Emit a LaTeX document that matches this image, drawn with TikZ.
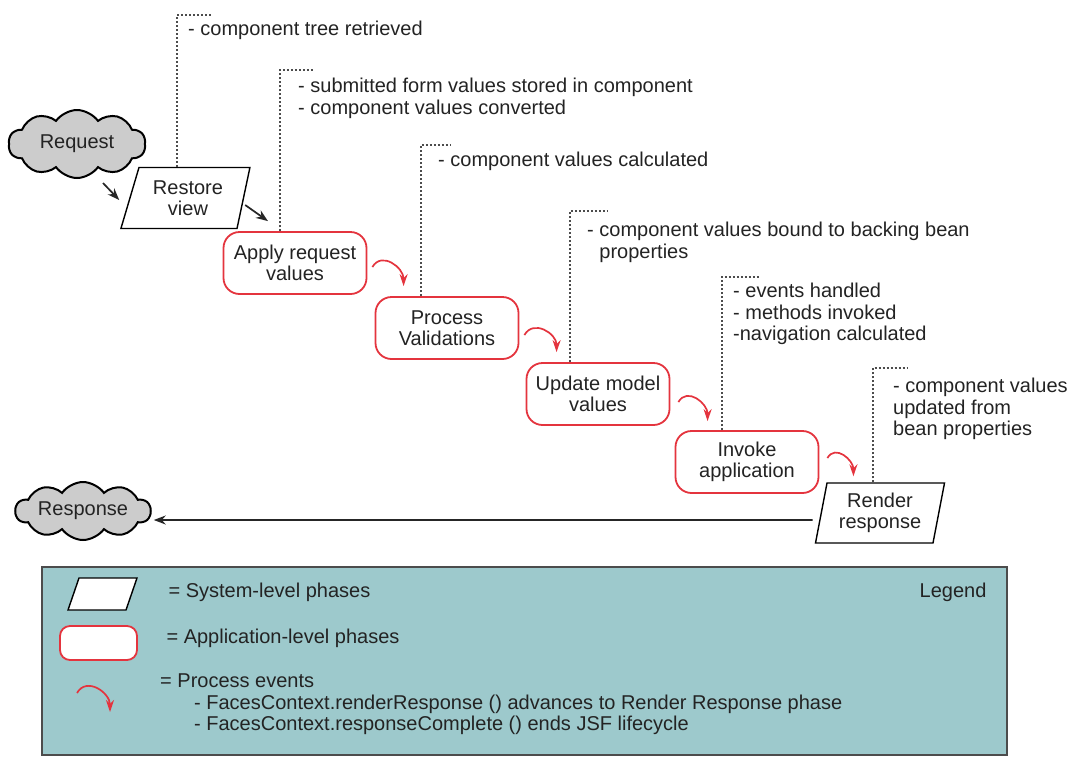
\documentclass[tikz,border=0pt]{standalone}
\usepackage{fontspec}
\setmainfont{Liberation Sans}
\usetikzlibrary{shapes.geometric,shapes.symbols,arrows.meta}
\definecolor{phasered}{RGB}{228,52,62}
\definecolor{legendteal}{RGB}{157,201,204}
\definecolor{inkgray}{RGB}{35,35,35}

\tikzstyle{sysbox} = [draw=black, fill=white, line width=1.4pt, trapezium,
    trapezium stretches body, align=center, inner sep=0pt]
\tikzstyle{appbox} = [draw=phasered, fill=white, line width=1.8pt,
    rectangle, rounded corners=16pt, align=center,
    minimum width=143pt, minimum height=62pt]
\tikzstyle{cloudbox} = [draw=black, fill=gray!40, line width=2pt, cloud,
    cloud puffs=10, cloud puff arc=110, cloud ignores aspect, inner sep=0pt]
\tikzstyle{note} = [anchor=north west, align=left, inner sep=0pt]
\tikzstyle{leader} = [draw=gray!60!black, line width=2pt, dash pattern=on 2pt off 2pt]
\tikzstyle{flowarrow} = [draw=black!85, line width=1.7pt, -{Stealth[length=12pt,width=9pt]}]
\tikzstyle{eventarrow} = [draw=phasered, line width=1.7pt, looseness=1.3,
    -{Stealth[length=12pt,width=8pt]}]

\begin{document}
\begin{tikzpicture}[x=1pt, y=-1pt, font=\fontsize{20}{21.5}\selectfont, text=inkgray]
\useasboundingbox (0,0) rectangle (1083,769);

\node[cloudbox, minimum width=137pt, minimum height=68pt] (request) at (77,144) {Request};
\node[cloudbox, minimum width=135pt, minimum height=58pt] (response) at (83,511) {Response};

\node[sysbox, trapezium left angle=63, trapezium right angle=110,
    minimum width=129pt, minimum height=61pt] (restore) at (188,198) {Restore\\view};
\node[appbox] (apply) at (295,263) {Apply request\\values};
\node[appbox] (process) at (447,328) {Process\\Validations};
\node[appbox] (update) at (598,394) {Update model\\values};
\node[appbox] (invoke) at (747,462) {Invoke\\application};
\node[sysbox, trapezium left angle=74, trapezium right angle=106,
    minimum width=129pt, minimum height=60pt] (render) at (880,513) {Render\\response};

\draw[flowarrow] ([shift={(26,4)}]request.south) -- ([shift={(-10,2)}]restore.west);
\draw[flowarrow] ([shift={(1,7)}]restore.east) -- ([shift={(-27,-10)}]apply.north);
\draw[flowarrow] ([shift={(-8,7)}]render.west) -- ([shift={(2,9)}]response.east);

\draw[eventarrow] ([shift={(5,4)}]apply.east) to[out=60,in=90] ([shift={(29,-10)}]process.north west);
\draw[eventarrow] ([shift={(5,7)}]process.east) to[out=60,in=90] ([shift={(31,-10)}]update.north west);
\draw[eventarrow] ([shift={(8,8)}]update.east) to[out=60,in=90] ([shift={(33,-9)}]invoke.north west);
\draw[eventarrow] ([shift={(8,-4)}]invoke.east) to[out=60,in=90] ([shift={(27,-6)}]render.top left corner);

\coordinate (k1) at (177,15);
\coordinate (k2) at (280,70);
\coordinate (k3) at (421,145);
\coordinate (k4) at (570,211);
\coordinate (k5) at (722,277);
\coordinate (k6) at (873,368);
\draw[leader] (k1 |- restore.north) -- (k1) -- ++(36,0);
\draw[leader] (k2 |- apply.north) -- (k2) -- ++(33,0);
\draw[leader] (k3 |- process.north) -- (k3) -- ++(29,0);
\draw[leader] (k4 |- update.north) -- (k4) -- ++(38,0);
\draw[leader] (k5 |- invoke.north) -- (k5) -- ++(38,0);
\draw[leader] (k6 |- render.north) -- (k6) -- ++(35,0);

\node[note] (n1) at (188,21) {- component tree retrieved};
\node[note] (n2) at (298,78) {- submitted form values stored in component\\- component values converted};
\node[note] (n3) at (438,152) {- component values calculated};
\node[note] (n4) at (587,222) {- component values bound to backing bean\\\phantom{- }properties};
\node[note] (n5) at (733,283) {- events handled\\- methods invoked\\-navigation calculated};
\node[note] (n6) at (893,378) {- component values\\updated from\\bean properties};

\node[draw=black!70, line width=1.5pt, fill=legendteal, inner sep=0pt,
    minimum width=965pt, minimum height=188pt] (legend) at (524.5,661) {};
\draw[draw=black, fill=white, line width=1.4pt] (68,610) -- (79,578) -- (137,578) -- (126,610) -- cycle;
\node[appbox, rounded corners=10pt, minimum width=77pt, minimum height=34pt] (legapp) at (98.5,643) {};
\coordinate (legev1) at (77,693);
\coordinate (legev2) at (110,712);
\draw[eventarrow] (legev1) to[out=60,in=90] (legev2);

\node[anchor=west] (legsystxt) at (165,592) {= System-level phases};
\node[anchor=west] (legapptxt) at (163,638) {= Application-level phases};
\node[note] (legevtxt) at (160,674) {= Process events\\
    \hspace*{34pt}- FacesContext.renderResponse () advances to Render Response phase\\
    \hspace*{34pt}- FacesContext.responseComplete () ends JSF lifecycle};
\node[anchor=east] (legtitle) at (990,592) {Legend};
\end{tikzpicture}
\end{document}
